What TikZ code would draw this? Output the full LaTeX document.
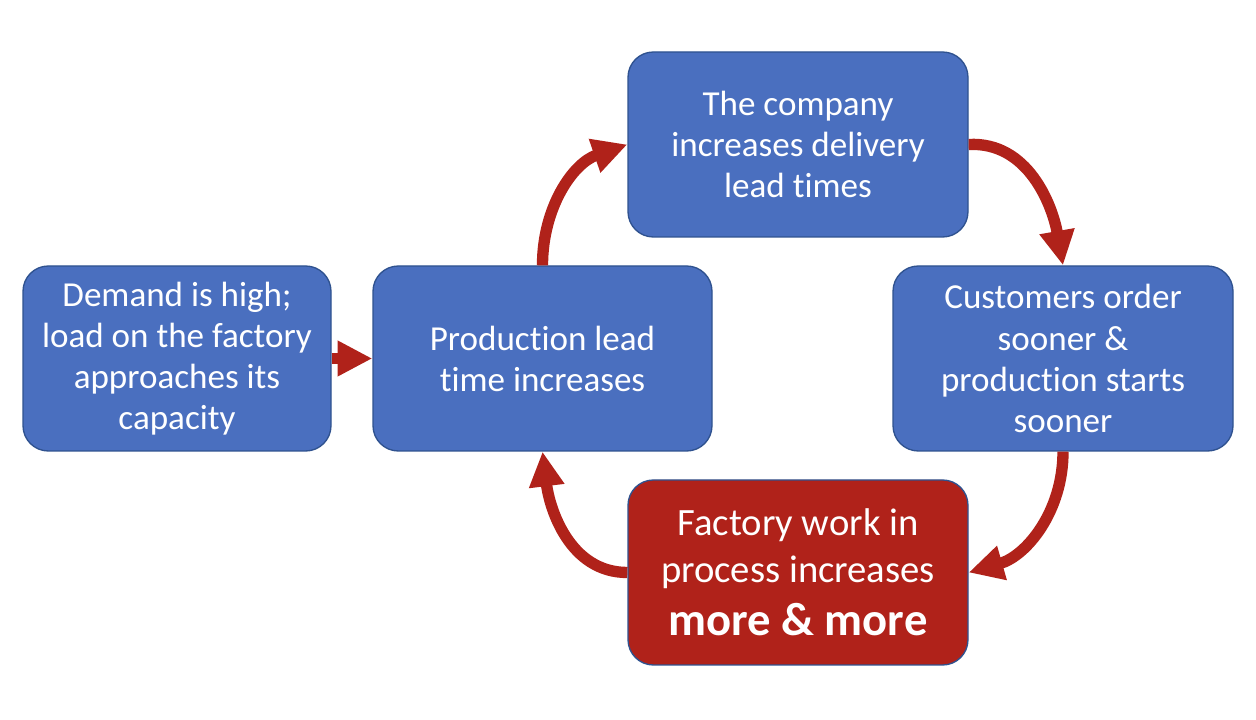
\documentclass[tikz,border=0pt]{standalone}
\usepackage{fontspec}
\setmainfont{Carlito}[Ligatures=NoCommon,RawFeature={-liga;-clig;-dlig}]
\usetikzlibrary{arrows.meta}
\definecolor{boxblue}{HTML}{4A6FBF}
\definecolor{edgeblue}{HTML}{2F528F}
\definecolor{boxred}{HTML}{B0221A}
\definecolor{arrowred}{HTML}{B0221A}
\begin{document}
\begin{tikzpicture}[x=0.75pt,y=0.75pt,
  box/.style={rounded corners=19pt, draw=edgeblue, line width=1pt, fill=boxblue,
    text=white, align=center, inner sep=0pt,
    font=\fontsize{26.3}{30.8}\selectfont},
  flow/.style={draw=arrowred, line width=8.5pt,
    -{Triangle[width=25pt,length=26pt]}}]
\useasboundingbox (0,0) rectangle (1256,720);
\node[box, minimum width=231pt, minimum height=138.75pt] (demand) at (177,361.5)
  {Demand is high;\\load on the factory\\approaches its\\capacity};
\node[box, minimum width=254.25pt, minimum height=138.75pt] (prod) at (542.5,361.5)
  {Production lead\\time increases};
\node[box, minimum width=255pt, minimum height=138.75pt] (comp) at (798,575.5)
  {The company\\increases delivery\\lead times};
\node[box, minimum width=255pt, minimum height=138.75pt] (cust) at (1063,361.5)
  {Customers order\\sooner \&\\production starts\\sooner};
\node[box, fill=boxred, minimum width=255pt, minimum height=138.75pt,
  font=\fontsize{29}{35}\selectfont] (fact) at (798,147.5)
  {Factory work in\\process increases\\[5pt]{\fontsize{35}{40.5}\selectfont\bfseries more \& more}};
\draw[flow] (demand.east) -- (prod.west);
\draw[flow] (prod.north) to[out=90, in=199] (comp.west);
\draw[flow] (comp.east) to[out=3, in=100] (cust.north);
\draw[flow] (cust.south) to[out=270, in=16] (fact.east);
\draw[flow] (fact.west) to[out=180, in=277] (prod.south);
\end{tikzpicture}
\end{document}
